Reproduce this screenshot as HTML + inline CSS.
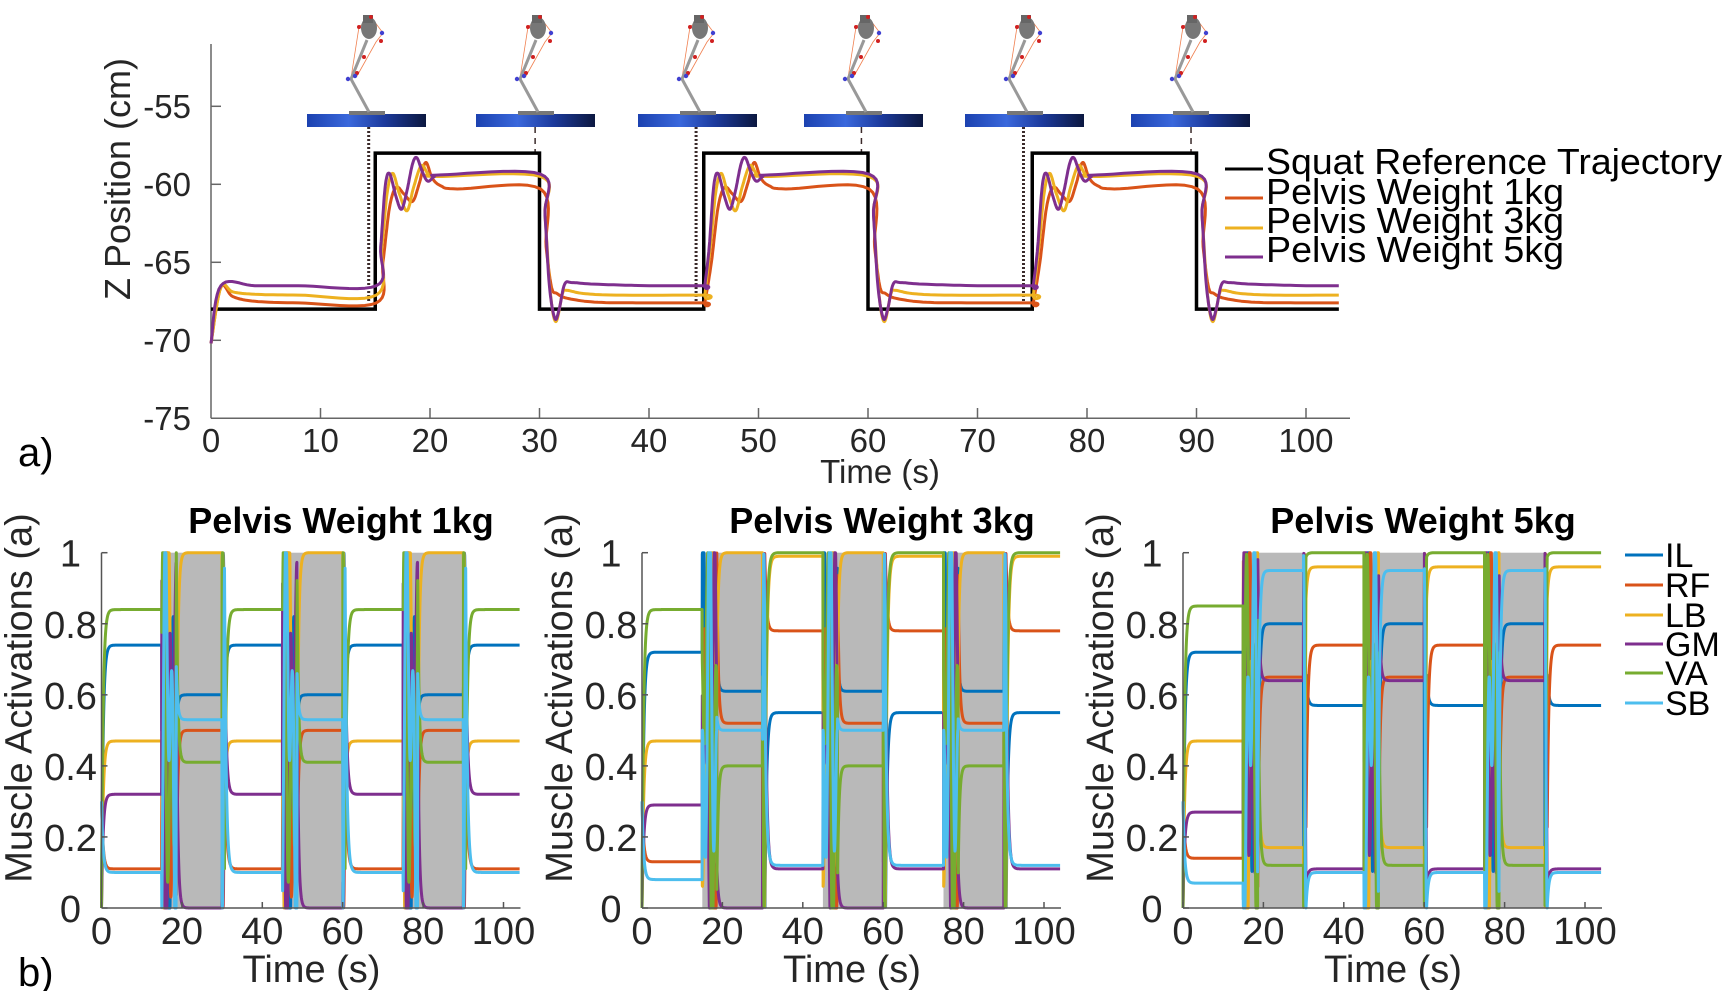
<!DOCTYPE html>
<html><head><meta charset="utf-8"><style>
html,body{margin:0;padding:0;background:#fff;}
svg{display:block;}
text{font-family:"Liberation Sans",Arial,sans-serif;fill:#262626;}
</style></head><body>
<svg id="s" width="1725" height="991" viewBox="0 0 1725 991" xmlns="http://www.w3.org/2000/svg">
<defs>
<linearGradient id="bg" x1="0" x2="1" y1="0" y2="0">
<stop offset="0" stop-color="#1c42b0"/><stop offset="0.35" stop-color="#3a68dc"/><stop offset="0.65" stop-color="#1c3a9c"/><stop offset="1" stop-color="#0c1840"/>
</linearGradient>
</defs>
<g id="robots"></g>
<g id="topg"></g>
<g font-size="33" text-anchor="end">
<text x="191" y="118">-55</text><text x="191" y="196">-60</text><text x="191" y="274">-65</text><text x="191" y="352">-70</text><text x="191" y="430">-75</text>
</g>
<g font-size="33" text-anchor="middle">
<text x="211" y="452">0</text><text x="320.5" y="452">10</text><text x="430" y="452">20</text><text x="539.5" y="452">30</text><text x="649" y="452">40</text><text x="758.5" y="452">50</text><text x="868" y="452">60</text><text x="977.5" y="452">70</text><text x="1087" y="452">80</text><text x="1196.5" y="452">90</text><text x="1306" y="452">100</text>
<text x="880" y="483">Time (s)</text>
</g>
<text font-size="36" transform="translate(130,179) rotate(-90)" text-anchor="middle">Z Position (cm)</text>
<text font-size="40" x="18" y="466" style="fill:#000">a)</text>
<text font-size="40" x="18" y="986" style="fill:#000">b)</text>
<g stroke-width="3">
<line x1="1225" x2="1263" y1="169" y2="169" stroke="#000"/>
<line x1="1225" x2="1263" y1="198" y2="198" stroke="#D95319"/>
<line x1="1225" x2="1263" y1="228" y2="228" stroke="#EDB120"/>
<line x1="1225" x2="1263" y1="257" y2="257" stroke="#7E2F8E"/>
</g>
<g font-size="36">
<text x="1266" y="174" textLength="456" lengthAdjust="spacingAndGlyphs" style="fill:#000">Squat Reference Trajectory</text>
<text x="1266" y="204" textLength="298" lengthAdjust="spacingAndGlyphs" style="fill:#000">Pelvis Weight 1kg</text>
<text x="1266" y="233" textLength="298" lengthAdjust="spacingAndGlyphs" style="fill:#000">Pelvis Weight 3kg</text>
<text x="1266" y="262" textLength="298" lengthAdjust="spacingAndGlyphs" style="fill:#000">Pelvis Weight 5kg</text>
</g>
<g id="bottom"></g>
<g stroke-width="3">
<line x1="1625" x2="1663" y1="555" y2="555" stroke="#0072BD"/>
<line x1="1625" x2="1663" y1="585" y2="585" stroke="#D95319"/>
<line x1="1625" x2="1663" y1="615" y2="615" stroke="#EDB120"/>
<line x1="1625" x2="1663" y1="644" y2="644" stroke="#7E2F8E"/>
<line x1="1625" x2="1663" y1="673" y2="673" stroke="#77AC30"/>
<line x1="1625" x2="1663" y1="703" y2="703" stroke="#4DBEEE"/>
</g>
<g font-size="34">
<text x="1665" y="567" style="fill:#000">IL</text>
<text x="1665" y="597" style="fill:#000">RF</text>
<text x="1665" y="627" style="fill:#000">LB</text>
<text x="1665" y="656" style="fill:#000">GM</text>
<text x="1665" y="685" style="fill:#000">VA</text>
<text x="1665" y="715" style="fill:#000">SB</text>
</g>
<g font-size="36" font-weight="bold" text-anchor="middle">
<text x="341" y="533" style="fill:#000">Pelvis Weight 1kg</text>
<text x="882" y="533" style="fill:#000">Pelvis Weight 3kg</text>
<text x="1423" y="533" style="fill:#000">Pelvis Weight 5kg</text>
</g>
<g id="blabels"></g>
</svg>
<script>
(function(){
var NS="http://www.w3.org/2000/svg";
function el(parent,tag,attrs,txt){var e=document.createElementNS(NS,tag);for(var k in attrs)e.setAttribute(k,attrs[k]);if(txt!==undefined)e.textContent=txt;parent.appendChild(e);return e;}
var X=function(t){return 211+10.95*t;}, Y=function(v){return 418.3-(v+75)*15.6;};
var tp=document.getElementById('topg');
el(tp,'line',{x1:211,y1:44,x2:211,y2:418.3,stroke:'#666','stroke-width':1.5});
el(tp,'line',{x1:211,y1:418.3,x2:1350,y2:418.3,stroke:'#666','stroke-width':1.5});
for(var i=1;i<=10;i++){el(tp,'line',{x1:X(i*10),x2:X(i*10),y1:418.3,y2:408,stroke:'#666','stroke-width':1.5});}
[-55,-60,-65,-70].forEach(function(v){el(tp,'line',{x1:211,x2:221,y1:Y(v),y2:Y(v),stroke:'#666','stroke-width':1.5});});
[[14.4,'dot',Y(-67.6)],[29.6,'dash',153],[44.3,'dot',Y(-67.6)],[59.4,'dash',153],[74.2,'dot',Y(-67.6)],[89.5,'dash',153]].forEach(function(g){
 el(tp,'line',{x1:X(g[0]),x2:X(g[0]),y1:127,y2:g[2],stroke:'#3a2a2a','stroke-width':g[1]=='dot'?3:1.5,'stroke-dasharray':g[1]=='dot'?'2,2':'6,5'});
});
var d='M'+X(0)+','+Y(-68);
[15,30,45,60,75,90].forEach(function(t,i){var a=i%2==0?-68:-58,b=i%2==0?-58:-68;d+=' L'+X(t)+','+Y(a)+' L'+X(t)+','+Y(b);});
d+=' L'+X(103)+','+Y(-68);
el(tp,'path',{d:d,fill:'none',stroke:'#000','stroke-width':3.5});
function catmull(pts){var out=[];for(var i=0;i<pts.length-1;i++){var p0=pts[Math.max(0,i-1)],p1=pts[i],p2=pts[i+1],p3=pts[Math.min(pts.length-1,i+2)];for(var s=0;s<10;s++){var u=s/10,u2=u*u,u3=u2*u;var f=function(a,b,c,dd){return 0.5*((2*b)+(-a+c)*u+(2*a-5*b+4*c-dd)*u2+(-a+3*b-3*c+dd)*u3);};out.push([f(p0[0],p1[0],p2[0],p3[0]),f(p0[1],p1[1],p2[1],p3[1])]);}}out.push(pts[pts.length-1]);return out;}
var series=[
 {c:'#D95319',init:[[0,-70.2],[0.9,-66.6],[2,-67.2],[4,-67.5],[8,-67.6]],
  up:[[0.1,-67.6],[0.7,-65],[1.3,-61.5],[1.9,-60.2],[2.6,-60.6],[3.4,-61.1],[4,-60],[4.6,-58.6],[5.2,-59.6],[6,-60.1],[7.5,-60.3],[15.1,-60.3]],
  dn:[[0.6,-64],[1.1,-66.6],[1.6,-67],[2.5,-67.3],[5,-67.55],[9,-67.6],[15.1,-67.6]]},
 {c:'#EDB120',init:[[0,-70.2],[0.9,-66.6],[2,-66.9],[4,-67.05],[8,-67.1]],
  up:[[0.1,-67.1],[0.6,-64],[1.1,-60.5],[1.6,-59.3],[2.2,-60.6],[2.9,-61.7],[3.5,-60.2],[4.2,-58.8],[4.8,-59.3],[5.5,-59.5],[15.1,-59.5]],
  dn:[[0.5,-62],[1,-67],[1.5,-68.8],[2.1,-67],[2.5,-66.8],[4,-67],[7,-67.1],[15.1,-67.1]]},
 {c:'#7E2F8E',init:[[0,-70.2],[0.9,-66.5],[4,-66.5],[8,-66.5]],
  up:[[0.1,-66.5],[0.5,-64],[0.9,-60.2],[1.3,-59.3],[1.9,-60.8],[2.4,-61.6],[2.9,-60.4],[3.4,-58.7],[3.8,-58.3],[4.3,-59.2],[4.8,-59.8],[5.4,-59.5],[6,-59.4],[15.1,-59.35]],
  dn:[[0.5,-62],[0.9,-66.5],[1.4,-68.6],[1.8,-68],[2.3,-66.4],[3,-66.3],[5,-66.4],[10,-66.5],[15.1,-66.5]]}
];
series.forEach(function(s){
 var pts=s.init.slice();
 [15,45,75].forEach(function(t0,k){
  s.up.forEach(function(p){pts.push([t0+p[0],p[1]]);});
  var t1=t0+15;var dn=s.dn.slice();
  if(k==2){dn=dn.filter(function(p){return t1+p[0]<=103;});dn.push([13,dn[dn.length-1][1]]);}
  dn.forEach(function(p){pts.push([t1+p[0],p[1]]);});
 });
 var c=catmull(pts);var dd='M'+c.map(function(p){return X(p[0]).toFixed(1)+','+Y(p[1]).toFixed(1);}).join(' L');
 el(tp,'path',{d:dd,fill:'none',stroke:s.c,'stroke-width':3,'stroke-linejoin':'round'});
});
var rb=document.getElementById('robots');
[307,476,638,804,965,1131].forEach(function(L){
 var g=el(rb,'g',{transform:'translate('+L+',0)'});
 el(g,'rect',{x:0,y:114,width:119,height:13,fill:'url(#bg)'});
 el(g,'rect',{x:42,y:111,width:36,height:4,fill:'#777'});
 el(g,'polygon',{points:'44,78 52,27 64,17 76,33 69,42 50,76',fill:'none',stroke:'#f08050','stroke-width':0.8});
 el(g,'polyline',{points:'62,112 44,79 60,40',fill:'none',stroke:'#999','stroke-width':3});
 el(g,'ellipse',{cx:62,cy:28,rx:8,ry:11,fill:'#777'});
 el(g,'rect',{x:56,y:15,width:10,height:8,fill:'#666'});
 [[52,27],[64,17],[74,41],[57,57],[50,73]].forEach(function(p){el(g,'circle',{cx:p[0],cy:p[1],r:2,fill:'#d02020'});});
 [[41,79],[48,76],[75,33]].forEach(function(p){el(g,'circle',{cx:p[0],cy:p[1],r:2.2,fill:'#4040d0'});});
});
var cols=['#0072BD','#D95319','#EDB120','#7E2F8E','#77AC30','#4DBEEE'];
var panels=[
 {x0:101.5,pre:[.74,.11,.47,.32,.84,.10],inn:[.60,.50,1,0,.41,.53],post:[.74,.11,.47,.32,.84,.10]},
 {x0:642,pre:[.72,.13,.47,.29,.84,.08],inn:[.61,.52,1,0,.40,.50],post:[.55,.78,.99,.11,1,.12]},
 {x0:1183,pre:[.72,.14,.47,.27,.85,.07],inn:[.80,.65,.17,.64,.12,.95],post:[.57,.74,.96,.11,1,.10]}
];
var B=document.getElementById('bottom'),BL=document.getElementById('blabels');
var BY=function(a){return 908-355.3*a;};
panels.forEach(function(P,pi){
 var BX=function(t){return P.x0+4.02*t;};
 [15,45,75].forEach(function(w){el(B,'rect',{x:BX(w),y:BY(1),width:BX(w+15)-BX(w),height:BY(0)-BY(1),fill:'#b9b9b9'});});
 for(var m=0;m<6;m++){
  var pts=[];var seed=m*1.7+pi*0.9;
  for(var t=0;t<=104;t+=0.05){
   var v;
   var inW=-1;[15,45,75].forEach(function(w){if(t>=w&&t<w+15)inW=w;});
   if(inW>=0){
    var dt=t-inW;
    if(dt<3.6){v=0.5+0.65*Math.sin(2.6*dt+seed)*Math.sin(0.9*dt+2*seed);}
    else{v=P.inn[m]+(0.5*Math.sin(seed*3)+0.5-P.inn[m])*Math.exp(-(dt-3.6)/0.35);}
   } else {
    var lv,prev,ts;
    if(t<15){lv=P.pre[m];prev=(m==1||m==5)?0.3:0;ts=0;}
    else{ts=t<45?30:(t<75?60:90);lv=P.post[m];
      var dt2=t-ts; if(dt2<0.6){v=0.5+0.5*Math.sin(5*dt2+seed*2);pts.push([t,Math.max(0,Math.min(1,v))]);continue;}
      prev=0.5+0.5*Math.sin(3+seed*2);ts+=0.6;}
    v=lv+(prev-lv)*Math.exp(-(t-ts)/0.4);
   }
   pts.push([t,Math.max(0,Math.min(1,v))]);
  }
  var dd='M'+pts.map(function(p){return BX(p[0]).toFixed(1)+','+BY(p[1]).toFixed(1);}).join(' L');
  el(B,'path',{d:dd,fill:'none',stroke:cols[m],'stroke-width':3,'stroke-linejoin':'round'});
 }
 el(B,'line',{x1:P.x0,y1:BY(1),x2:P.x0,y2:BY(0),stroke:'#555','stroke-width':1.5});
 el(B,'line',{x1:P.x0,y1:BY(0),x2:P.x0+419,y2:BY(0),stroke:'#555','stroke-width':1.5});
 for(var k=0;k<=5;k++){var a=k*0.2;
  el(B,'line',{x1:P.x0,x2:P.x0+6,y1:BY(a),y2:BY(a),stroke:'#555','stroke-width':1.5});
  el(BL,'text',{x:P.x0-31,y:BY(a)+14,'font-size':38,'text-anchor':'middle'},k==0?'0':(k==5?'1':a.toFixed(1)));
  var tt=k*20;
  el(B,'line',{x1:BX(tt),x2:BX(tt),y1:BY(0),y2:BY(0)-6,stroke:'#555','stroke-width':1.5});
  el(BL,'text',{x:BX(tt),y:944,'font-size':38,'text-anchor':'middle'},String(tt));
 }
 el(BL,'text',{x:P.x0+210,y:982,'font-size':38,'text-anchor':'middle'},'Time (s)');
 el(BL,'text',{x:0,y:0,'font-size':38,'text-anchor':'middle',transform:'translate('+(P.x0-70)+',698) rotate(-90)'},'Muscle Activations (a)');
});
})();
</script>
</body></html>
